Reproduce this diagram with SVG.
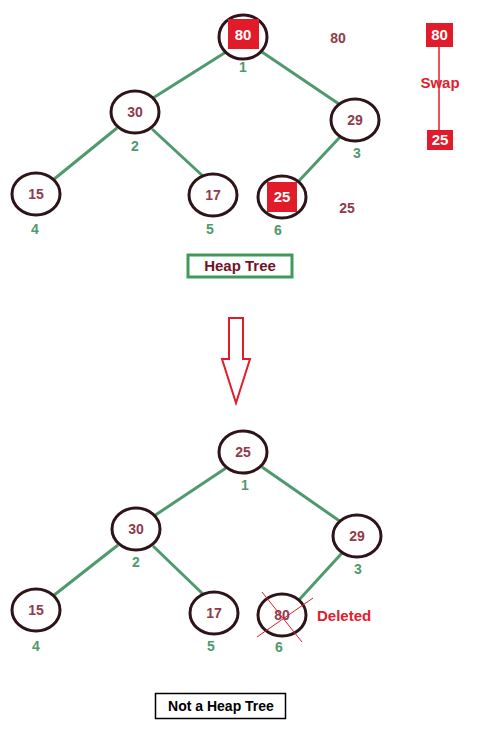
<svg xmlns="http://www.w3.org/2000/svg" width="482" height="745" viewBox="0 0 482 745">
<defs>
<style>
.n{fill:#fff;stroke:#2e1418;stroke-width:3}
.t{font-family:"Liberation Sans",Arial,sans-serif;font-weight:bold;font-size:14px;fill:#8e3c4c;text-anchor:middle}
.w{font-family:"Liberation Sans",Arial,sans-serif;font-weight:bold;font-size:15px;fill:#fff;text-anchor:middle}
.l{font-family:"Liberation Sans",Arial,sans-serif;font-weight:bold;font-size:14px;fill:#4f9a6c;text-anchor:middle}
.e{stroke:#4f9a6c;stroke-width:3;fill:none}
.r{font-family:"Liberation Sans",Arial,sans-serif;font-weight:bold;font-size:15px;fill:#e0202e}
.sq{fill:#e21b2a}
</style>
</defs>
<rect width="482" height="745" fill="#fff"/>
<g id="connectors">
<line class="e" x1="226" y1="52" x2="153" y2="98"/>
<line class="e" x1="262" y1="52" x2="339" y2="104"/>
<line class="e" x1="117" y1="128" x2="53" y2="180"/>
<line class="e" x1="152" y1="129" x2="205" y2="178"/>
<line class="e" x1="340" y1="137" x2="297" y2="183"/>
<line class="e" x1="226" y1="468" x2="154" y2="516"/>
<line class="e" x1="262" y1="467" x2="341" y2="522"/>
<line class="e" x1="118" y1="545" x2="53" y2="596"/>
<line class="e" x1="153" y1="546" x2="206" y2="597"/>
<line class="e" x1="342" y1="553" x2="298" y2="601"/>
</g>
<g id="t1">
<ellipse class="n" cx="243" cy="37" rx="24" ry="22"/>
<rect class="sq" x="228" y="19" width="31" height="30"/>
<text class="w" x="243" y="40">80</text>
<text class="l" x="243" y="72">1</text>
</g>
<g id="t2">
<ellipse class="n" cx="135" cy="112" rx="24" ry="21"/>
<text class="t" x="135" y="117">30</text>
<text class="l" x="135" y="151">2</text>
</g>
<g id="t3">
<ellipse class="n" cx="355" cy="120" rx="24" ry="21"/>
<text class="t" x="355" y="125">29</text>
<text class="l" x="357" y="158">3</text>
</g>
<g id="t4">
<ellipse class="n" cx="36" cy="194" rx="24" ry="21"/>
<text class="t" x="36" y="199">15</text>
<text class="l" x="35" y="234">4</text>
</g>
<g id="t5">
<ellipse class="n" cx="213" cy="195" rx="24" ry="21"/>
<text class="t" x="213" y="200">17</text>
<text class="l" x="210" y="234">5</text>
</g>
<g id="t6">
<ellipse class="n" cx="282" cy="197" rx="24" ry="21"/>
<rect class="sq" x="267" y="182" width="30" height="30"/>
<text class="w" x="282" y="202">25</text>
<text class="l" x="278" y="235">6</text>
</g>
<text class="t" x="338" y="43">80</text>
<text class="t" x="347" y="213">25</text>
<g id="swap">
<line x1="439" y1="46" x2="439" y2="131" stroke="#e21b2a" stroke-width="1.5"/>
<rect class="sq" x="426" y="23" width="27" height="24"/>
<text class="w" x="439.5" y="40">80</text>
<rect class="sq" x="427" y="130" width="26" height="20"/>
<text class="w" x="440" y="145">25</text>
<text class="r" x="440" y="88" text-anchor="middle">Swap</text>
</g>
<g id="heaptree">
<rect x="188" y="255" width="104" height="22" fill="#fff" stroke="#3f9a5a" stroke-width="3"/>
<text x="240" y="271" font-family="Liberation Sans,Arial,sans-serif" font-weight="bold" font-size="15" fill="#6e1428" text-anchor="middle">Heap Tree</text>
</g>
<g id="arrow">
<path d="M229,318 H243 V359 H250 L236,403 L222,359 H229 Z" fill="#fff" stroke="#e21b2a" stroke-width="2" stroke-linejoin="miter"/>
</g>
<g id="b1">
<ellipse class="n" cx="243" cy="452" rx="24" ry="21"/>
<text class="t" x="243" y="457">25</text>
<text class="l" x="245" y="490">1</text>
</g>
<g id="b2">
<ellipse class="n" cx="136" cy="529" rx="24" ry="21"/>
<text class="t" x="136" y="534">30</text>
<text class="l" x="136" y="567">2</text>
</g>
<g id="b3">
<ellipse class="n" cx="357" cy="536" rx="24" ry="21"/>
<text class="t" x="357" y="541">29</text>
<text class="l" x="358" y="574">3</text>
</g>
<g id="b4">
<ellipse class="n" cx="36" cy="610" rx="24" ry="21"/>
<text class="t" x="36" y="615">15</text>
<text class="l" x="36" y="651">4</text>
</g>
<g id="b5">
<ellipse class="n" cx="214" cy="613" rx="24" ry="21"/>
<text class="t" x="214" y="618">17</text>
<text class="l" x="211" y="651">5</text>
</g>
<g id="b6">
<ellipse class="n" cx="282" cy="615" rx="24" ry="21"/>
<text class="t" x="282" y="620">80</text>
<line x1="262" y1="592" x2="302" y2="642" stroke="#e21b2a" stroke-width="1"/>
<line x1="257" y1="637" x2="313" y2="598" stroke="#e21b2a" stroke-width="1"/>
<text class="l" x="279" y="652">6</text>
<text class="r" x="317" y="621">Deleted</text>
</g>
<g id="notheap">
<rect x="155.5" y="693.5" width="130" height="25" fill="#fff" stroke="#000" stroke-width="1.5"/>
<text x="221" y="711" font-family="Liberation Sans,Arial,sans-serif" font-weight="bold" font-size="14" fill="#000" text-anchor="middle">Not a Heap Tree</text>
</g>
</svg>
